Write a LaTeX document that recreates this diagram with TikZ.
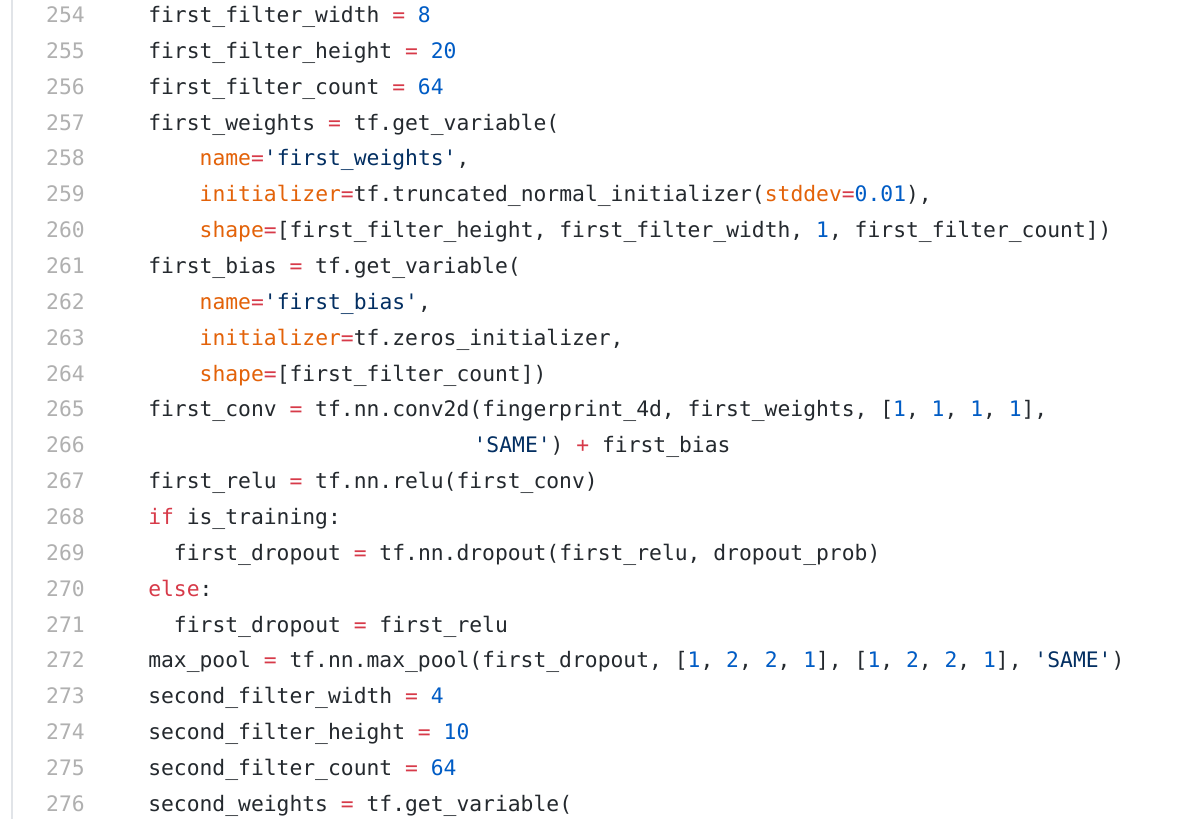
\documentclass[tikz,border=0pt]{standalone}
\usepackage{fontspec}
\setmonofont{DejaVu Sans Mono}
\definecolor{txt}{HTML}{24292E}
\definecolor{opc}{HTML}{D73A49}
\definecolor{kwc}{HTML}{E36209}
\definecolor{numc}{HTML}{005CC5}
\definecolor{strc}{HTML}{032F62}
\definecolor{lnc}{HTML}{B0B0B0}
\definecolor{bord}{HTML}{E1E4E8}
\newcommand\Op[1]{\textcolor{opc}{#1}}
\newcommand\Kw[1]{\textcolor{kwc}{#1}}
\newcommand\Nm[1]{\textcolor{numc}{#1}}
\newcommand\St[1]{\textcolor{strc}{#1}}
\newcommand\CL[3]{%
  \node[lnum] (n#1) at (85,{22.5+35.86*(#1-254)}) {#1};
  \node[code] (c#1) at ({148+12.86*#2},{22.5+35.86*(#1-254)}) {#3};}
\begin{document}
\begin{tikzpicture}[x=0.75pt,y=-0.75pt,
  code/.style={anchor=base west,inner sep=0pt,text=txt,font=\ttfamily\fontsize{16}{16}\selectfont},
  lnum/.style={anchor=base east,inner sep=0pt,text=lnc,font=\ttfamily\fontsize{16}{16}\selectfont}]
\useasboundingbox (0,0) rectangle (1200,819);
\fill[white] (0,0) rectangle (1200,819);
\draw[bord,line width=1.5] (12,0) -- (12,819);
\CL{254}{0}{first\_filter\_width \Op{=} \Nm{8}}
\CL{255}{0}{first\_filter\_height \Op{=} \Nm{20}}
\CL{256}{0}{first\_filter\_count \Op{=} \Nm{64}}
\CL{257}{0}{first\_weights \Op{=} tf.get\_variable(}
\CL{258}{4}{\Kw{name}\Op{=}\St{'first\_weights'},}
\CL{259}{4}{\Kw{initializer}\Op{=}tf.truncated\_normal\_initializer(\Kw{stddev}\Op{=}\Nm{0.01}),}
\CL{260}{4}{\Kw{shape}\Op{=}[first\_filter\_height, first\_filter\_width, \Nm{1}, first\_filter\_count])}
\CL{261}{0}{first\_bias \Op{=} tf.get\_variable(}
\CL{262}{4}{\Kw{name}\Op{=}\St{'first\_bias'},}
\CL{263}{4}{\Kw{initializer}\Op{=}tf.zeros\_initializer,}
\CL{264}{4}{\Kw{shape}\Op{=}[first\_filter\_count])}
\CL{265}{0}{first\_conv \Op{=} tf.nn.conv2d(fingerprint\_4d, first\_weights, [\Nm{1}, \Nm{1}, \Nm{1}, \Nm{1}],}
\CL{266}{25.3}{\St{'SAME'}) \Op{+} first\_bias}
\CL{267}{0}{first\_relu \Op{=} tf.nn.relu(first\_conv)}
\CL{268}{0}{\Op{if} is\_training:}
\CL{269}{2}{first\_dropout \Op{=} tf.nn.dropout(first\_relu, dropout\_prob)}
\CL{270}{0}{\Op{else}:}
\CL{271}{2}{first\_dropout \Op{=} first\_relu}
\CL{272}{0}{max\_pool \Op{=} tf.nn.max\_pool(first\_dropout, [\Nm{1}, \Nm{2}, \Nm{2}, \Nm{1}], [\Nm{1}, \Nm{2}, \Nm{2}, \Nm{1}], \St{'SAME'})}
\CL{273}{0}{second\_filter\_width \Op{=} \Nm{4}}
\CL{274}{0}{second\_filter\_height \Op{=} \Nm{10}}
\CL{275}{0}{second\_filter\_count \Op{=} \Nm{64}}
\CL{276}{0}{second\_weights \Op{=} tf.get\_variable(}
\end{tikzpicture}
\end{document}
